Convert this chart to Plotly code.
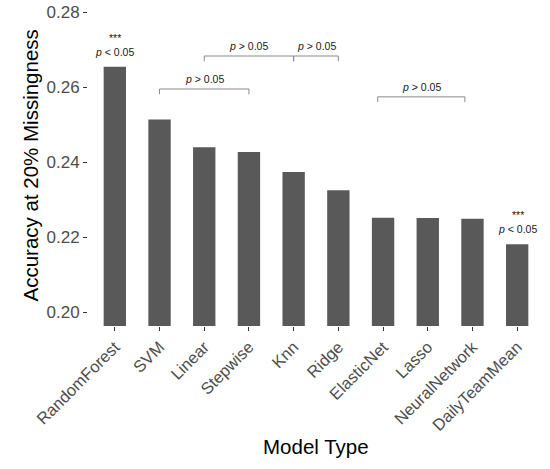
import plotly.graph_objects as go

models = ["RandomForest", "SVM", "Linear", "Stepwise", "Knn", "Ridge",
          "ElasticNet", "Lasso", "NeuralNetwork", "DailyTeamMean"]
accuracy = [0.2654, 0.2514, 0.2440, 0.2427, 0.2374, 0.2325,
            0.2252, 0.2251, 0.2249, 0.2181]
y_ticks = [0.20, 0.22, 0.24, 0.26, 0.28]
y_tick_labels = ["0.20", "0.22", "0.24", "0.26", "0.28"]

# pairwise comparisons: (start model, end model, bracket height, label)
comp_start = ["SVM", "Linear", "Knn", "ElasticNet"]
comp_end = ["Stepwise", "Knn", "Ridge", "NeuralNetwork"]
comp_level = [0.2595, 0.2683, 0.2683, 0.2574]
comp_label = ["p &gt; 0.05"] * 4

# single-model significance marks
sig_models = ["RandomForest", "DailyTeamMean"]
sig_stars = ["***", "***"]
sig_label = ["p &lt; 0.05", "p &lt; 0.05"]

FONT = "Liberation Sans, Arial, sans-serif"
idx = {m: i for i, m in enumerate(models)}
fig = go.Figure()
fig.add_trace(go.Bar(x=models, y=accuracy, width=0.5,
                     marker=dict(color="#595959", line=dict(width=0)),
                     hoverinfo="skip"))

tip = 0.0014
# the last bracket in the source is drawn slightly left of the bar centres
shift = {("ElasticNet", 0): -0.12, ("NeuralNetwork", 1): -0.17}
for s, e, lv, lab in zip(comp_start, comp_end, comp_level, comp_label):
    x0 = idx[s] + shift.get((s, 0), 0)
    x1 = idx[e] + shift.get((e, 1), 0)
    fig.add_shape(type="path",
                  path=f"M {x0} {lv - tip} L {x0} {lv} L {x1} {lv} L {x1} {lv - tip}",
                  xref="x", yref="y", line=dict(color="#8a8a8a", width=1))
    fig.add_annotation(x=(x0 + x1) / 2, y=lv, xref="x", yref="y",
                       text=lab.replace("p ", "<i>p</i> ", 1), showarrow=False,
                       yanchor="bottom", yshift=2,
                       font=dict(family=FONT, size=10.5, color="#1a1a1a"))

for m, st, lab in zip(sig_models, sig_stars, sig_label):
    v = accuracy[idx[m]]
    fig.add_annotation(x=m, y=v, xref="x", yref="y",
                       text=st + "<br>" + lab.replace("p ", "<i>p</i> ", 1),
                       showarrow=False, yanchor="bottom", yshift=7,
                       font=dict(family=FONT, size=10.5, color="#1a1a1a"))

# axis titles
fig.add_annotation(text="Model Type", xref="paper", yref="paper", x=0.5, y=0,
                   yshift=-120, xanchor="center", yanchor="middle", showarrow=False,
                   font=dict(family=FONT, size=20.5, color="black"))
fig.add_annotation(text="Accuracy at 20% Missingness", xref="paper", yref="paper",
                   x=0, y=0.5, xshift=-58, textangle=-90, xanchor="center",
                   yanchor="middle", showarrow=False,
                   font=dict(family=FONT, size=20.5, color="black"))

fig.update_layout(
    width=550, height=469,
    margin=dict(l=88, r=6, t=5, b=143),
    plot_bgcolor="white", paper_bgcolor="white",
    showlegend=False,
    font=dict(family=FONT),
    xaxis=dict(
        range=[-0.6, 9.6], tickangle=-45, automargin=False,
        ticks="outside", ticklen=4, tickcolor="#333333", tickwidth=1,
        showgrid=False, zeroline=False, showline=False,
        tickfont=dict(family=FONT, size=16.5, color="#4d4d4d"),
    ),
    yaxis=dict(
        range=[0.1963, 0.2819], automargin=False,
        tickvals=y_ticks, ticktext=y_tick_labels,
        ticks="outside", ticklen=4, tickcolor="#333333", tickwidth=1,
        showgrid=False, zeroline=False, showline=False,
        tickfont=dict(family=FONT, size=17, color="#4d4d4d"),
    ),
)
fig.write_html("out.html", config={"displayModeBar": False},
               post_script="document.body.style.margin='0';")
